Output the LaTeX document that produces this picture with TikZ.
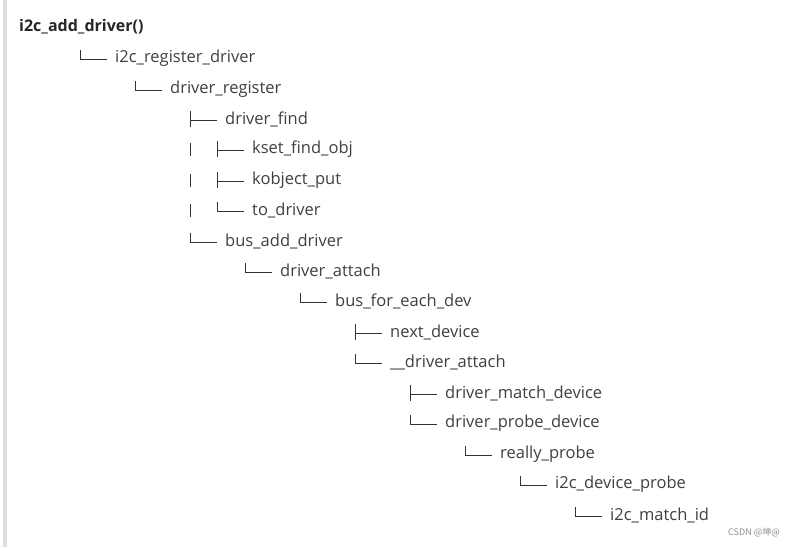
\documentclass[tikz,border=0pt]{standalone}
\usepackage{fontspec}
\setmainfont{Open Sans}
\newfontfamily\cjk{Noto Sans CJK SC}
\begin{document}
\begin{tikzpicture}[x=1pt,y=-1pt,
  entry/.style={anchor=west,inner sep=0pt,font=\fontsize{16.5}{18}\selectfont,text=black!75},
  glyph/.style={line width=0.9pt,black!80}]

% Frame and left bar
\useasboundingbox (0,0) rectangle (794,547);
\fill[white] (0,0) rectangle (794,547);
\fill[black!13] (3,0) rectangle (7,547);

% Root
\node[entry,font=\fontsize{16}{18}\selectfont\bfseries,text=black!85] (root) at (19,27) {i2c\_add\_driver()};

% Tree entries: x of text / y of row / kind (L = last, T = tee) / name / label
\foreach \x/\y/\k/\n/\t in {
  115/58/L/reg/i2c\_register\_driver,
  170/89/L/drvreg/driver\_register,
  225/119/T/find/driver\_find,
  252/149/T/kset/kset\_find\_obj,
  252/180/T/kput/kobject\_put,
  252/210/L/todrv/to\_driver,
  225/241/L/busadd/bus\_add\_driver,
  280/271/L/attach/driver\_attach,
  335/301/L/foreach/bus\_for\_each\_dev,
  390/332/T/next/next\_device,
  390/362/L/uattach/\_\_driver\_attach,
  445/393/T/match/driver\_match\_device,
  445/423/L/probedev/driver\_probe\_device,
  500/454/L/really/really\_probe,
  555/484/L/i2cprobe/i2c\_device\_probe,
  610/515/L/matchid/i2c\_match\_id} {
  \node[entry] (\n) at (\x,\y) {\t};
  \if\k T
    \draw[glyph] (\x-35,\y-8) -- (\x-35,\y+8);
  \else
    \draw[glyph] (\x-35,\y-8) -- (\x-35,\y+1);
  \fi
  \draw[glyph] (\x-35,\y+1) -- (\x-8,\y+1);
}

% Continuation bars under driver_find
\foreach \y in {149,180,210}
  \draw[glyph] (190,\y-6) -- (190,\y+7);

% Watermark
\node[anchor=east,inner sep=0pt,font=\cjk\fontsize{9}{10}\selectfont,text=black!45] (mark) at (780,532) {CSDN @坤@};

\end{tikzpicture}
\end{document}
